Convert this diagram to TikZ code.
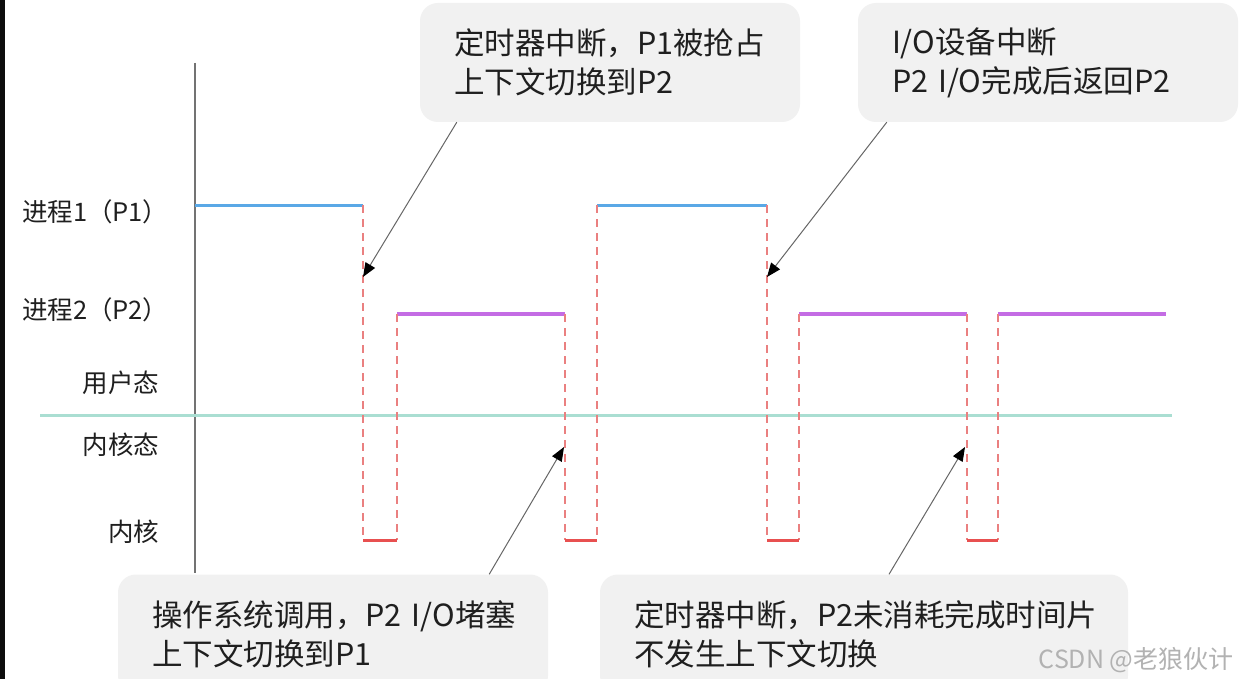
\documentclass[tikz,border=0pt]{standalone}
\usepackage{fontspec}
\setmainfont{Noto Sans CJK SC}
\usetikzlibrary{arrows.meta,positioning}
\definecolor{procblue}{RGB}{90,168,230}
\definecolor{procpurple}{RGB}{196,108,228}
\definecolor{modeline}{RGB}{170,222,210}
\definecolor{switchred}{RGB}{234,128,128}
\definecolor{kernred}{RGB}{232,80,80}
\definecolor{notegray}{RGB}{241,241,241}

\begin{document}
\begin{tikzpicture}[x=1pt,y=-1pt,
  every node/.style={font=\fontsize{25.5}{30}\selectfont,text=black!88},
  note/.style={fill=notegray,rounded corners=18pt,inner xsep=34pt,minimum height=119pt,align=left,font=\fontsize{30.5}{39}\selectfont},
  modelabel/.style={anchor=east},
  switch/.style={switchred,line width=1.6pt,dash pattern=on 8pt off 6pt},
  callout/.style={draw=black!60,line width=1pt,-{Triangle[color=black,length=14pt,width=11pt]}}]
\useasboundingbox (0,0) rectangle (1241,679);
\clip (0,0) rectangle (1241,679);
\fill[white] (0,0) rectangle (1241,679);
\fill[black!95] (0,0) rectangle (5,679);

% axis, user/kernel boundary
\draw[black!55,line width=1.6pt] (195,63) -- (195,573);
\draw[modeline,line width=3pt] (40,415) -- (1172,415);
\node[modelabel] (lp1) at (172,212) {进程1（P1）};
\node[modelabel] (lp2) at (172,310) {进程2（P2）};
\node[modelabel] (luser) at (163,383) {用户态};
\node[modelabel] (lkmode) at (163,445) {内核态};
\node[modelabel] (lkern) at (163,532) {内核};

% running in user mode
\draw[procblue,line width=3pt] (195,205) -- (363,205);
\draw[procblue,line width=3pt] (597,205) -- (767,205);
\draw[procpurple,line width=3.5pt] (397,314) -- (565,314);
\draw[procpurple,line width=3.5pt] (799,314) -- (967,314);
\draw[procpurple,line width=3.5pt] (998,314) -- (1166,314);
% traps into the kernel
\foreach \x/\y in {363/205,397/314,565/314,597/205,767/205,799/314,967/314,998/314}
  \draw[switch] (\x,\y) -- (\x,540);
\foreach \a/\b in {363/397,565/597,767/799,967/998}
  \draw[kernred,line width=3pt] (\a,540) -- (\b,540);

% notes
\node[note,text width=312pt] (n1) at (610,62.5) {定时器中断，P1被抢占\\上下文切换到P2};
\node[note,text width=312pt] (n2) at (1048,62.5) {I/O设备中断\\P2~I/O完成后返回P2};
\node[note,text width=362pt] (n3) at (333,634) {操作系统调用，P2~I/O堵塞\\上下文切换到P1};
\node[note,text width=460pt] (n4) at (864,634) {定时器中断，P2未消耗完成时间片\\不发生上下文切换};

\coordinate (t1) at (363,277);
\coordinate (t2) at (767,277);
\coordinate (t3) at (564,447);
\coordinate (t4) at (965,447);
\draw[callout] ([xshift=37]n1.south west) -- (t1);
\draw[callout] ([xshift=29]n2.south west) -- (t2);
\draw[callout] ([xshift=-59]n3.north east) -- (t3);
\draw[callout] ([xshift=25]n4.north) -- (t4);

\node[anchor=east,text=black!30,font=\fontsize{25}{28}\selectfont] (mark) at (1237,660) {CSDN @老狼伙计};
\end{tikzpicture}
\end{document}
